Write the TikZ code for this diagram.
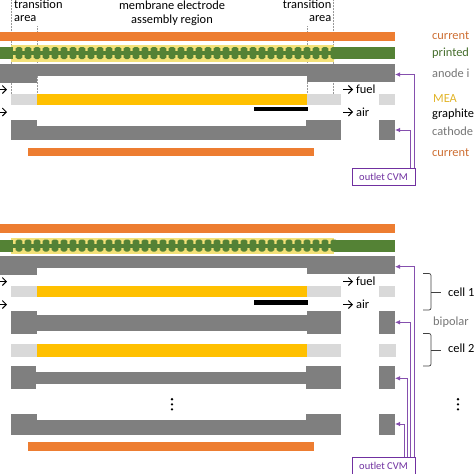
\documentclass[tikz,border=0pt]{standalone}
\usepackage{fontspec}
\setmainfont{Carlito}
\usetikzlibrary{arrows.meta}
\definecolor{cuor}{RGB}{237,125,49}
\definecolor{cutxt}{RGB}{205,110,50}
\definecolor{pgreen}{RGB}{84,130,53}
\definecolor{pgtxt}{RGB}{70,110,45}
\definecolor{pyel}{RGB}{243,225,120}
\definecolor{gry}{RGB}{127,127,127}
\definecolor{lgry}{RGB}{217,217,217}
\definecolor{mea}{RGB}{255,192,0}
\definecolor{meatxt}{RGB}{225,180,40}
\definecolor{purp}{RGB}{112,48,160}
\definecolor{txtg}{RGB}{118,118,118}
\tikzset{
  x=1pt,y=-1pt,
  lbl/.style={inner sep=0pt,font=\fontsize{12.4}{14}\selectfont,text=black},
  sidelbl/.style={lbl,anchor=west},
  arr/.style={-{Straight Barb[length=4pt,width=8pt]},line width=0.9pt,black},
  cvm/.style={draw=purp,line width=0.9pt,inner sep=0pt,minimum width=63pt,minimum height=17pt,text=purp,font=\fontsize{10.5}{12}\selectfont,fill=white},
  wire/.style={purp!85,line width=0.8pt,-{Latex[length=5pt,width=4.5pt]}},
  guide/.style={gray!80,densely dotted,line width=0.5pt},
  bracket/.style={black!75,line width=0.7pt,rounded corners=2pt},
}
\newcommand{\printed}[1]{%
  \fill[pyel] (11,#1) rectangle (334,#1+16.5);
  \fill[pgreen] (0,#1+2) rectangle (13,#1+14);
  \fill[pgreen] (334,#1+2) rectangle (395,#1+14);
  \fill[pgreen] (0,#1+6) rectangle (334,#1+10);
  \foreach \k in {0,...,35} {
    \fill[pgreen] ({19+9*\k-3.4},#1+3.5) -- ({19+9*\k-1.4},#1+2) -- ({19+9*\k+1.4},#1+2) -- ({19+9*\k+3.4},#1+3.5) -- ({19+9*\k+3.4},#1+12.5) -- ({19+9*\k+1.4},#1+14) -- ({19+9*\k-1.4},#1+14) -- ({19+9*\k-3.4},#1+12.5) -- cycle;
  }
}
\begin{document}
\begin{tikzpicture}
\useasboundingbox (0,0) rectangle (474,474);
\clip (0,0) rectangle (474,474);
% ---------- top stack
\draw[guide] (11,0) -- (11,94);
\draw[guide] (37,26) -- (37,94);
\draw[guide] (307,26) -- (307,94);
\draw[guide] (333.5,0) -- (333.5,94);
\fill[cuor] (0,32) rectangle (395,40.5);
\printed{45}
\fill[gry] (0,64) rectangle (395,76);
\fill[gry] (0,76) rectangle (37,82.5);
\fill[gry] (307,76) rectangle (395,81.5);
\fill[lgry] (11,94) rectangle (37,105);
\fill[mea] (37,94) rectangle (307,105);
\fill[lgry] (307,94) rectangle (341,105);
\fill[lgry] (379,94) rectangle (395,105);
\fill[black] (254,107) rectangle (307.5,111.2);
\fill[gry] (11,119.5) rectangle (37,140);
\fill[gry] (37,126) rectangle (341,140);
\fill[gry] (306,119.5) rectangle (341,126);
\fill[gry] (379,119.5) rectangle (395,140);
\fill[cuor] (28,148) rectangle (314,156);
% ---------- bottom stack
\fill[cuor] (0,224) rectangle (395,232.5);
\printed{237.5}
\fill[gry] (0,256) rectangle (395,268);
\fill[gry] (0,268) rectangle (37,274.5);
\fill[gry] (307,268) rectangle (395,274);
\fill[lgry] (11,286) rectangle (37,297);
\fill[mea] (37,286) rectangle (307,297);
\fill[lgry] (307,286) rectangle (341,297);
\fill[lgry] (379,286) rectangle (395,297);
\fill[black] (254,300.3) rectangle (307.5,305.3);
\fill[gry] (11,311) rectangle (37,334.3);
\fill[gry] (37,314.5) rectangle (307,331);
\fill[gry] (307,311) rectangle (341,334.3);
\fill[gry] (379,311) rectangle (395,334.3);
\fill[lgry] (11,344) rectangle (37,357);
\fill[mea] (37,344) rectangle (307,357);
\fill[lgry] (307,344) rectangle (341,357);
\fill[lgry] (379,344) rectangle (396,357);
\fill[gry] (11,366) rectangle (36,389);
\fill[gry] (36,371.5) rectangle (306,383.5);
\fill[gry] (306,366) rectangle (341,389);
\fill[gry] (379,366) rectangle (395,389);
\fill[gry] (11,413.5) rectangle (37,434.5);
\fill[gry] (37,420) rectangle (306,434.5);
\fill[gry] (306,413.5) rectangle (341,434.5);
\fill[gry] (379,413.5) rectangle (395,434.5);
\fill[cuor] (28,442) rectangle (314,450.5);
% ---------- top labels
\node[lbl,anchor=west] (ta1a) at (14,4) {transition};
\node[lbl,anchor=west] (ta1b) at (14,19) {area};
\node[lbl] (mr1) at (172,5.5) {membrane electrode};
\node[lbl] (mr2) at (172,20.5) {assembly region};
\node[lbl,anchor=east] (ta2a) at (331.5,4) {transition};
\node[lbl,anchor=east] (ta2b) at (331.5,19) {area};
% ---------- flow arrows
\foreach \y/\t in {89.5/fuel,112/air,281.5/fuelb,304.5/airb} {
  \coordinate (fa\t) at (343,\y);
  \coordinate (fb\t) at (353,\y);
  \draw[arr] (fa\t) -- (fb\t);
  \coordinate (la\t) at (-3,\y);
  \coordinate (lb\t) at (7,\y);
  \draw[arr] (la\t) -- (lb\t);
}
\node[lbl,anchor=west] (fla) at (356,89.5) {fuel};
\node[lbl,anchor=west] (ala) at (356,112) {air};
\node[lbl,anchor=west] (flb) at (356,281.5) {fuel};
\node[lbl,anchor=west] (alb) at (356,304.5) {air};
% ---------- right-hand legend
\node[sidelbl,text=cutxt] (l1) at (432,36) {current};
\node[sidelbl,text=pgtxt] (l2) at (432,53) {printed};
\node[sidelbl,text=txtg] (l3) at (432,73) {anode i};
\node[sidelbl,text=meatxt] (l4) at (433,99) {MEA};
\node[sidelbl] (l5) at (432,114) {graphite};
\node[sidelbl,text=txtg] (l6) at (432,131) {cathode};
\node[sidelbl,text=cutxt] (l7) at (432,153) {current};
\node[sidelbl] (c1) at (448,292) {cell 1};
\node[sidelbl,text=txtg] (bp) at (433,322) {bipolar};
\node[sidelbl] (c2) at (448,348.5) {cell 2};
% ---------- brackets
\coordinate (b1t) at (423,273.5);
\coordinate (b1b) at (423,310);
\coordinate (b1m) at (431,292);
\coordinate (b1e) at (440.5,292);
\draw[bracket] (b1t) -| (b1m) |- (b1b);
\draw[black!75,line width=0.7pt] (b1m) -- (b1e);
\coordinate (b2t) at (423,333.5);
\coordinate (b2b) at (423,366);
\coordinate (b2m) at (431,350);
\coordinate (b2e) at (440.5,350);
\draw[bracket] (b2t) -| (b2m) |- (b2b);
\draw[black!75,line width=0.7pt] (b2m) -- (b2e);
% ---------- dots
\foreach \y in {399.2,404.3,409.4} { \fill[black] (172,\y) circle (1.3); \fill[black] (458,\y) circle (1.3); }
% ---------- CVM boxes and wires
\node[cvm] (cvmA) at (383.5,176.5) {outlet CVM};
\node[cvm] (cvmB) at (383.5,465.5) {outlet CVM};
\coordinate (ta) at (395,74.5);
\coordinate (tb) at (395,130);
\draw[wire] (414,168) |- (ta);
\draw[wire] (410.7,168) |- (tb);
\coordinate (ba) at (395,266.7);
\coordinate (bb) at (395,322.3);
\coordinate (bc) at (395,378.3);
\coordinate (bd) at (395,424);
\draw[wire] (414,457) |- (ba);
\draw[wire] (410,457) |- (bb);
\draw[wire] (407.3,457) |- (bc);
\draw[wire] (404,457) |- (bd);
\end{tikzpicture}
\end{document}
